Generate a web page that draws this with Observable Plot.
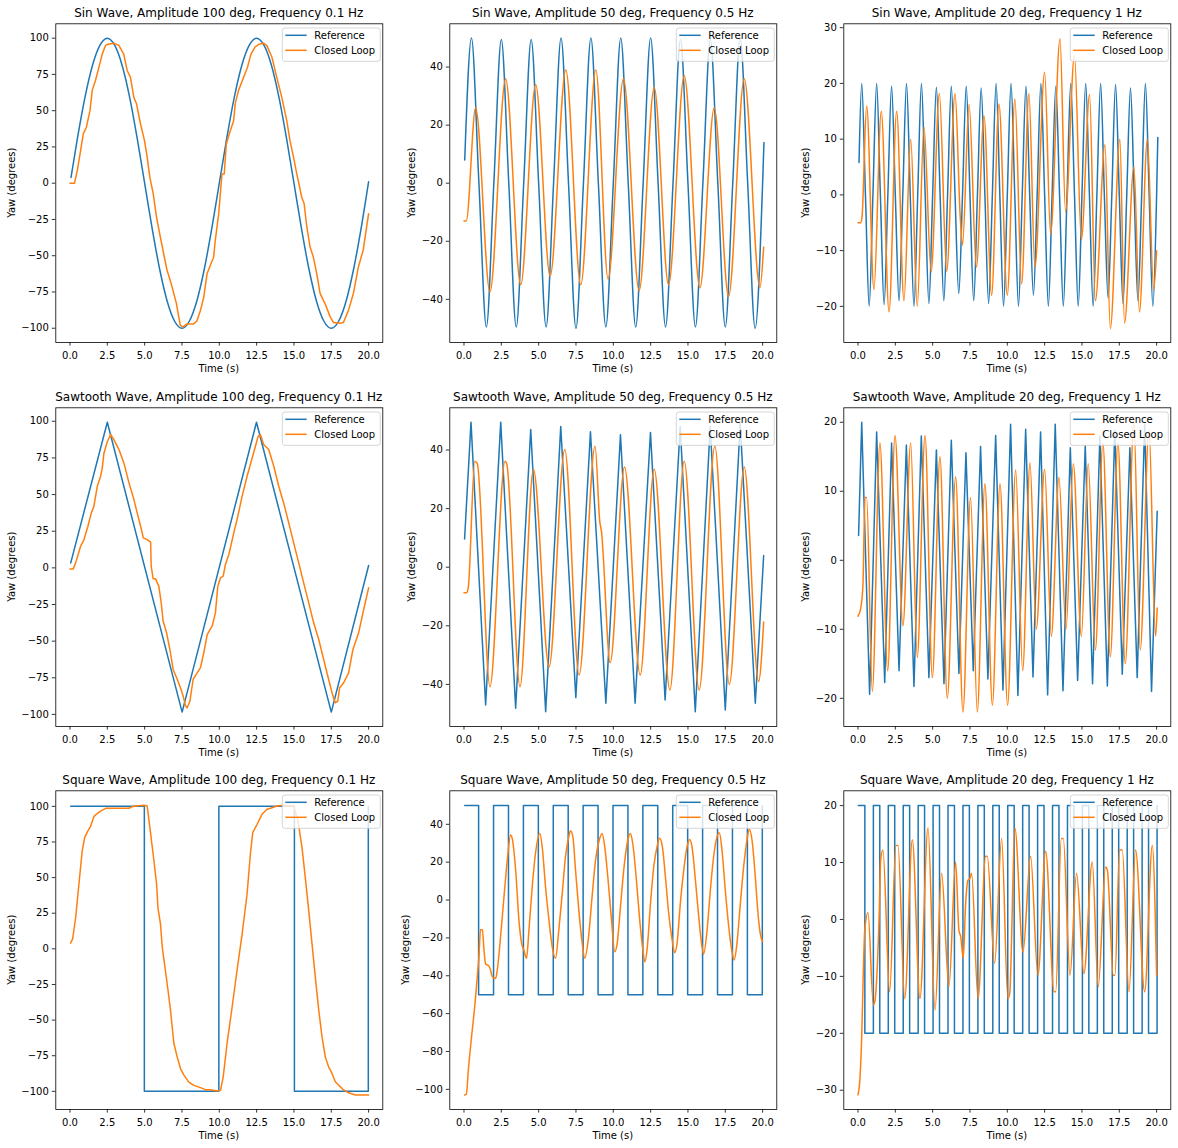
<!DOCTYPE html>
<html><head><meta charset="utf-8">
<script src="https://cdn.jsdelivr.net/npm/d3@7"></script>
<script src="https://cdn.jsdelivr.net/npm/@observablehq/plot@0.6"></script>
<style>
html,body{margin:0;padding:0;background:#fff;}
#fig{position:relative;width:1178px;height:1148px;overflow:hidden;background:#fff;font-family:"DejaVu Sans",sans-serif;}
#fig svg{position:absolute;overflow:visible;}
</style></head><body><div id="fig"></div>
<script>
// ---------- DATA: [time (s), yaw (deg)] ----------
const titles = [
  "Sin Wave, Amplitude 100 deg, Frequency 0.1 Hz",
  "Sin Wave, Amplitude 50 deg, Frequency 0.5 Hz",
  "Sin Wave, Amplitude 20 deg, Frequency 1 Hz",
  "Sawtooth Wave, Amplitude 100 deg, Frequency 0.1 Hz",
  "Sawtooth Wave, Amplitude 50 deg, Frequency 0.5 Hz",
  "Sawtooth Wave, Amplitude 20 deg, Frequency 1 Hz",
  "Square Wave, Amplitude 100 deg, Frequency 0.1 Hz",
  "Square Wave, Amplitude 50 deg, Frequency 0.5 Hz",
  "Square Wave, Amplitude 20 deg, Frequency 1 Hz"
];
const seriesNames = ["Reference", "Closed Loop"];
const xTicks = [0, 2.5, 5, 7.5, 10, 12.5, 15, 17.5, 20];
const yTicks100 = [-100, -75, -50, -25, 0, 25, 50, 75, 100];
const yTicks50 = [-40, -20, 0, 20, 40];
const yTicksSin20 = [-20, -10, 0, 10, 20, 30];
const yTicksSaw20 = [-20, -10, 0, 10, 20];
const yTicksSq50 = [-100, -80, -60, -40, -20, 0, 20, 40];
const yTicksSq20 = [-30, -20, -10, 0, 10, 20];

const sinRef100 = [[0.07,4],[0.5,31],[1,59],[1.5,81],[2,95],[2.5,100],[3,95],[3.5,81],[4,59],[4.5,31],[5,0],[5.5,-31],[6,-59],[6.5,-81],[7,-95],[7.5,-100],[8,-95],[8.5,-81],[9,-59],[9.5,-31],[10,0],[10.5,31],[11,59],[11.5,81],[12,95],[12.5,100],[13,95],[13.5,81],[14,59],[14.5,31],[15,0],[15.5,-31],[16,-59],[16.5,-81],[17,-95],[17.5,-100],[18,-95],[18.5,-81],[19,-59],[19.5,-31],[20,1]];
const sinCL100 = [[0,0],[0.3,0],[0.49,8.7],[0.71,22.5],[0.89,34],[1.1,38.6],[1.34,50],[1.49,64],[1.71,71],[1.94,80],[2.16,89],[2.38,95],[2.6,96],[2.94,96.5],[3.27,95],[3.6,89],[3.83,77.7],[4.05,73],[4.28,59],[4.45,55],[4.72,41],[4.99,29.4],[5.17,18],[5.35,4],[5.57,-7],[5.79,-23],[6.01,-35],[6.28,-49],[6.5,-60],[6.77,-69],[6.95,-76],[7.13,-83],[7.28,-92],[7.39,-98],[7.57,-99],[7.84,-97],[8.28,-97],[8.5,-95],[8.73,-88],[8.95,-79],[9.18,-62.5],[9.44,-55.6],[9.62,-51],[9.73,-39.5],[9.96,-21],[10.18,6.4],[10.33,6.4],[10.47,27],[10.73,36],[10.96,43],[11.07,55],[11.29,64],[11.63,73],[11.89,80],[12.12,89],[12.4,94],[12.7,96],[12.96,96.5],[13.18,95],[13.52,87],[13.85,73],[14.19,59],[14.52,43],[14.74,29],[14.97,18],[15.19,6.4],[15.52,-9.7],[15.68,-14],[15.86,-30],[16.08,-44],[16.3,-51],[16.53,-62.5],[16.75,-76],[17.08,-83],[17.42,-92],[17.64,-96],[18.09,-96.5],[18.31,-96],[18.64,-88],[18.98,-76],[19.31,-58],[19.64,-46],[19.87,-30],[20,-21]];

const sinRef50 = [[0.05,8],[0.5,50],[1,0],[1.5,-49.5],[2,0],[2.5,49.5],[3,0],[3.5,-49.5],[4,0],[4.5,49.5],[5,0],[5.5,-49.5],[6,0],[6.5,50],[7,0],[7.5,-50],[8,0],[8.5,50],[9,0],[9.5,-49.5],[10,0],[10.5,50],[11,0],[11.5,-49.5],[12,0],[12.5,50],[13,0],[13.5,-49.5],[14,0],[14.5,49.5],[15,0],[15.5,-49.5],[16,0],[16.5,49.5],[17,0],[17.5,-49.5],[18,0],[18.5,50],[19,0],[19.5,-50],[20,0],[20.09,14]];
const sinCL50 = [[0,-13],[0.15,-13],[0.78,26],[1.74,-37.5],[2.79,36],[3.8,-35],[4.8,34],[5.77,-32],[6.82,39],[7.82,-35],[8.83,39],[9.65,-33],[10.68,36],[11.73,-37],[12.74,33],[13.7,-35],[14.75,37],[15.8,-36],[16.76,26],[17.72,-39],[18.77,36],[19.82,-36],[20.07,-22]];

const sinRef20 = [[0.07,5.8],[0.25,20],[0.5,0],[0.75,-20],[1,0],[1.25,20],[1.5,0],[1.75,-19.7],[2,0],[2.25,19.5],[2.5,0],[2.75,-19],[3,0],[3.25,20],[3.5,0],[3.75,-20],[4,0],[4.25,20],[4.5,0],[4.75,-19.5],[5,0],[5.25,19.3],[5.5,0],[5.75,-19],[6,0],[6.25,19.5],[6.5,0],[6.75,-17.7],[7,0],[7.25,19.5],[7.5,0],[7.75,-19],[8,0],[8.25,19.2],[8.5,0],[8.75,-19.5],[9,0],[9.25,20],[9.5,0],[9.75,-20],[10,0],[10.25,20],[10.5,0],[10.75,-20],[11,0],[11.25,19.5],[11.5,0],[11.75,-18],[12,0],[12.25,20],[12.5,0],[12.75,-20],[13,0],[13.25,19.5],[13.5,0],[13.75,-20],[14,0],[14.25,20],[14.5,0],[14.75,-20],[15,0],[15.25,20],[15.5,0],[15.75,-20],[16,0],[16.25,20],[16.5,0],[16.75,-18.5],[17,0],[17.25,19.8],[17.5,0],[17.75,-19.5],[18,0],[18.25,19.2],[18.5,0],[18.75,-19],[19,0],[19.25,20],[19.5,0],[19.75,-20],[20,0],[20.08,10.3]];
const sinCL20 = [[0,-5],[0.18,-5],[0.27,-4],[0.58,16],[1.07,-17],[1.56,15],[2.08,-21],[2.59,15],[3.08,-19],[3.53,10],[3.97,-20],[4.42,12.2],[4.9,-13.8],[5.45,18.2],[5.94,-13.7],[6.5,18.2],[6.85,-4],[7.0,-9],[7.44,16.2],[7.93,-13],[8.44,14.2],[8.95,-18],[9.44,16.3],[10.0,-18],[10.51,17.2],[10.96,-16],[11.45,18.2],[11.85,-13],[12.5,22],[12.9,-7],[13.53,28],[13.9,-3],[14.5,25],[14.96,-8],[15.51,18],[15.9,-19],[16.54,9],[16.9,-24],[17.54,10],[17.85,-23],[18.48,5],[18.85,-21],[19.38,10],[19.8,-17],[20.0,-10]];

const sawRef100 = [[0.05,3.4],[2.5,99.3],[7.51,-98.4],[12.49,99.3],[17.5,-98.4],[20,1.6]];
const sawCL100 = [[0,-0.7],[0.22,-0.7],[0.38,3.4],[0.71,14.8],[0.94,19.3],[1.2,28.4],[1.43,37.5],[1.6,42],[1.83,55.7],[2.05,62.5],[2.16,68],[2.27,78],[2.5,86],[2.72,91],[2.94,87.5],[3.28,80.7],[3.61,71.6],[3.95,58],[4.28,46.6],[4.5,37.5],[4.73,28.4],[4.91,20.5],[5.17,19.3],[5.4,17.5],[5.44,1.1],[5.57,-7.5],[5.73,-7.5],[5.95,-12.5],[6.11,-23.9],[6.24,-36.4],[6.47,-44.3],[6.69,-55.7],[6.91,-69.3],[7.18,-76],[7.4,-81.8],[7.58,-87.5],[7.74,-94.3],[7.85,-95.5],[8.03,-91],[8.25,-76],[8.52,-71.6],[8.74,-68],[8.96,-58],[9.19,-45.5],[9.52,-39.8],[9.74,-30.7],[9.9,-12.5],[10.08,-6.8],[10.26,-5.7],[10.41,2.3],[10.64,9.1],[10.97,23.9],[11.24,35.2],[11.53,48.9],[11.86,62.5],[12.2,75],[12.42,83],[12.6,89.8],[12.75,91],[12.98,84],[13.31,80.7],[13.65,69.3],[13.98,55.7],[14.31,44.3],[14.65,30.7],[14.98,17],[15.32,3.4],[15.65,-10.2],[15.99,-23.9],[16.32,-37.5],[16.66,-48.9],[16.99,-62.5],[17.32,-76],[17.61,-87.5],[17.77,-92],[17.93,-91],[18.06,-81.8],[18.33,-78.4],[18.66,-71.6],[18.95,-55.7],[19.33,-44.3],[19.67,-28.4],[20,-13.6]];

const sawRef50 = [[0.04,9.6],[0.47,49.5],[1.45,-47],[2.46,49.5],[3.46,-48.1],[4.47,47],[5.47,-49.3],[6.48,48],[7.49,-44.5],[8.47,46.2],[9.5,-46.4],[10.48,45.2],[11.46,-46.4],[12.49,46],[13.47,-45.3],[14.48,48],[15.49,-49.3],[16.49,48],[17.5,-48.7],[18.5,49],[19.51,-46.4],[20.07,4]];
const sawCL50 = [[0,-8.7],[0.18,-8.7],[0.29,-6.8],[0.72,36.2],[0.89,35.4],[1.74,-40.8],[2.75,36.2],[2.86,35.4],[3.75,-40.8],[4.65,33.4],[5.7,-34],[6.75,40.2],[7.71,-36.8],[8.78,41.3],[9.1,15.3],[9.2,12.5],[9.79,-32.6],[10.75,34.2],[11.8,-36.8],[12.74,33.4],[13.79,-41.9],[14.75,36.2],[15.75,-41.9],[16.8,41.3],[17.77,-40],[18.77,34.2],[19.73,-39],[20.07,-18.7]];

const sawRef20 = [[0.04,3.6],[0.25,20],[0.78,-19.4],[1.25,18.6],[1.79,-17.7],[2.25,17],[2.75,-16],[3.24,16.7],[3.75,-18.3],[4.24,18],[4.75,-17],[5.25,16],[5.76,-17.9],[6.25,17.4],[6.76,-16.4],[7.23,15.6],[7.72,-16],[8.21,16.5],[8.7,-17.2],[9.22,18.1],[9.71,-18.8],[10.22,19.7],[10.71,-19.6],[11.23,19],[11.72,-16.9],[12.23,18.6],[12.7,-19.5],[13.21,19.7],[13.73,-18.9],[14.22,16.3],[14.71,-17.4],[15.22,16.6],[15.71,-17.9],[16.2,18],[16.7,-18.2],[17.2,18.8],[17.7,-16.5],[18.21,16.3],[18.7,-17],[19.2,19.7],[19.66,-19],[20.04,7.1]];
const sawCL20 = [[0,-8.1],[0.18,-7],[0.33,-3.7],[0.47,9.1],[0.58,9.1],[0.96,-19],[1.47,17],[1.99,-16],[2.48,18.1],[3.01,-9.5],[3.53,17],[3.97,-14.1],[4.49,18.1],[4.98,-17],[5.49,15],[5.98,-20],[6.54,12.1],[7.03,-22],[7.54,9.1],[7.99,-22],[8.5,11.1],[9.0,-21],[9.51,11.1],[10.02,-21],[10.56,13.1],[11.03,-16],[11.52,14.1],[11.94,-10],[12.5,13.2],[12.95,-11],[13.46,12],[13.93,-10],[14.42,14],[14.96,-11],[15.42,14],[15.9,-13],[16.4,17],[16.9,-14],[17.41,17],[17.9,-15],[18.48,20],[18.9,-13],[19.49,19],[19.93,-11],[20.04,-6.9]];

const sqRef100 = [[0.05,100],[4.98,-100],[9.97,100],[15.03,-100],[19.98,100]];
const sqCL100 = [[0.04,4],[0.18,7],[0.38,22],[0.6,45.5],[0.82,68.8],[0.98,78],[1.2,82.8],[1.38,86],[1.61,93],[1.83,95],[2.05,96.7],[2.39,98.6],[2.72,98.6],[3.95,98.6],[4.1,99.5],[4.39,100.2],[4.95,100.7],[5.17,100.2],[5.35,85],[5.57,66.4],[5.8,45.5],[5.89,29],[6.06,17.5],[6.18,1.2],[6.33,-10.5],[6.51,-24.5],[6.73,-43],[6.96,-66.4],[7.18,-75.8],[7.4,-84],[7.63,-88.6],[7.96,-93.5],[8.29,-95.8],[8.74,-97.4],[9.07,-98.8],[9.41,-98.8],[9.85,-99.8],[10.08,-99.3],[10.26,-90],[10.52,-66.4],[10.86,-40.8],[11.19,-15],[11.53,10.5],[11.86,38.5],[12.08,66.4],[12.24,81.6],[12.53,87.4],[12.86,94.4],[13.2,97.9],[13.53,99],[13.87,100.2],[14.31,100.7],[14.98,100.2],[15.27,89.7],[15.54,71],[15.76,50],[15.99,26.8],[16.21,3.5],[16.43,-19.8],[16.66,-43],[16.88,-61.8],[17.1,-75.8],[17.32,-82.8],[17.55,-87.4],[17.77,-93.2],[17.99,-95.6],[18.33,-99],[18.66,-101],[19.11,-102.6],[20,-102.6]];

const sqRef50 = [[0.05,50],[0.98,-50],[1.98,50],[2.98,-50],[3.98,50],[4.98,-50],[5.98,50],[6.98,-50],[7.98,50],[8.98,-50],[9.98,50],[10.98,-50],[11.98,50],[12.98,-50],[13.98,50],[14.98,-50],[15.98,50],[16.98,-50],[17.98,50],[18.98,-50],[19.98,50]];
const sqCL50 = [[0.04,-103],[0.16,-102.5],[0.29,-90],[0.51,-72],[0.74,-54.6],[0.89,-40.5],[1.0,-30],[1.11,-15.5],[1.23,-15.8],[1.34,-26.4],[1.45,-33.8],[1.67,-34.9],[1.78,-37],[1.9,-40.5],[2.12,-41.4],[2.23,-37],[2.45,-19.4],[2.68,1.8],[2.9,21],[3.12,34.4],[3.23,32.6],[3.46,15.9],[3.68,-10.6],[3.86,-22.9],[4.01,-26.4],[4.19,-30.8],[4.35,-15.9],[4.57,7],[4.79,24.7],[5.08,35.2],[5.24,28],[5.46,7],[5.69,-10.6],[5.91,-24.7],[6.13,-30.8],[6.35,-15.9],[6.58,3.5],[6.8,23],[7.02,33.5],[7.13,36.6],[7.29,33.5],[7.47,15.9],[7.69,-5.3],[7.92,-22.9],[8.09,-30.8],[8.32,-21],[8.58,1.8],[8.81,21],[9.03,30.8],[9.25,35.2],[9.43,28],[9.65,10.6],[9.88,-10.6],[10.1,-27.3],[10.26,-22.9],[10.48,-3.5],[10.7,15.9],[10.97,31.7],[11.15,35.2],[11.3,30],[11.53,12.3],[11.75,-8.8],[11.98,-26.4],[12.11,-32.6],[12.26,-26.4],[12.49,-1.8],[12.71,17.6],[12.93,28.2],[13.09,32.6],[13.27,29],[13.49,12.3],[13.71,-7],[13.94,-21],[14.11,-27.8],[14.27,-22.9],[14.49,-1.8],[14.72,15.9],[14.94,28.2],[15.12,32],[15.27,28.2],[15.5,10.6],[15.72,-8.8],[15.94,-24.7],[16.05,-28.5],[16.28,-15.9],[16.5,5.3],[16.72,23],[16.95,33.5],[17.1,35.6],[17.28,26.4],[17.5,5.3],[17.73,-14],[17.95,-27.3],[18.1,-31.7],[18.28,-22.9],[18.51,-1.8],[18.73,17.6],[18.95,31.7],[19.11,37.4],[19.29,31.7],[19.51,12.3],[19.69,-7],[19.84,-17.6],[20,-22]];

const sqRef20 = [[0.02,20],[0.46,-20],[1.03,20],[1.46,-20],[2.03,20],[2.46,-20],[3.03,20],[3.46,-20],[4.03,20],[4.46,-20],[5.03,20],[5.46,-20],[6.03,20],[6.46,-20],[7.03,20],[7.46,-20],[8.03,20],[8.46,-20],[9.03,20],[9.46,-20],[10.03,20],[10.46,-20],[11.03,20],[11.46,-20],[12.03,20],[12.46,-20],[13.03,20],[13.46,-20],[14.03,20],[14.46,-20],[15.03,20],[15.46,-20],[16.03,20],[16.46,-20],[17.03,20],[17.46,-20],[18.03,20],[18.46,-20],[19.03,20],[19.46,-20],[20.03,20]];
const sqCL20 = [[0,-30.8],[0.13,-28],[0.25,-20.6],[0.36,-8.9],[0.45,-2],[0.67,1.2],[1.03,-15],[1.14,-14.2],[1.41,0],[1.52,10.4],[1.67,12.2],[2.12,-12.7],[2.54,13],[2.68,13],[3.13,-13.9],[3.64,14],[4.15,-13.9],[4.69,16.1],[5.16,-15.9],[5.6,8.1],[6.09,-11.8],[6.54,10.1],[6.76,-1.9],[6.88,-3],[7.05,-6.8],[7.21,2.8],[7.37,6.9],[7.5,7.2],[7.61,8.1],[8.04,-13.9],[8.55,11.1],[8.66,11.1],[9.15,-7.7],[9.62,14.2],[10.04,-13.9],[10.16,-13],[10.51,16],[11.05,-5.7],[11.56,11.1],[12.05,-9.8],[12.57,12],[13.13,-12.7],[13.24,-12.7],[13.62,14.2],[13.75,14.2],[14.2,-9.8],[14.64,8.1],[15.13,-9.5],[15.69,10.1],[16.09,-11.8],[16.58,9.2],[16.7,8.7],[17.1,-9.8],[17.21,-9.8],[17.52,12.2],[17.7,12.2],[18.15,-12.7],[18.59,12.2],[19.2,-12.7],[19.71,13],[20.0,-9.8]];

// ---------- PANEL SETUP ----------
const panels = [
  {ref: sinRef100, cl: sinCL100, refCurve: "monotone-x", clCurve: "linear", yDomain: [-109.9, 109.9], yTicks: yTicks100},
  {ref: sinRef50, cl: sinCL50, refCurve: "monotone-x", clCurve: "monotone-x", yDomain: [-54.9, 54.9], yTicks: yTicks50},
  {ref: sinRef20, cl: sinCL20, refCurve: "monotone-x", clCurve: "monotone-x", yDomain: [-26.5, 30.7], yTicks: yTicksSin20},
  {ref: sawRef100, cl: sawCL100, refCurve: "linear", clCurve: "linear", yDomain: [-108.3, 109.2], yTicks: yTicks100},
  {ref: sawRef50, cl: sawCL50, refCurve: "linear", clCurve: "monotone-x", yDomain: [-54.4, 54.4], yTicks: yTicks50},
  {ref: sawRef20, cl: sawCL20, refCurve: "linear", clCurve: "monotone-x", yDomain: [-24.1, 22.1], yTicks: yTicksSaw20},
  {ref: sqRef100, cl: sqCL100, refCurve: "step-after", clCurve: "linear", yDomain: [-112.8, 110.9], yTicks: yTicks100},
  {ref: sqRef50, cl: sqCL50, refCurve: "step-after", clCurve: "monotone-x", yDomain: [-110.7, 57.7], yTicks: yTicksSq50},
  {ref: sqRef20, cl: sqCL20, refCurve: "step-after", clCurve: "monotone-x", yDomain: [-33.4, 22.6], yTicks: yTicksSq20}
];

const BLUE = "#1f77b4", ORANGE = "#ff7f0e";
const W = 394, H = 384, ML = 55.3, MT = 23.3, PW = 327, PH = 318.8;
const colX = [0, 394, 788], rowY = [0, 383.6, 767.4];
const minus = v => (v < 0 ? "\u2212" : "");
const fmtX = v => minus(v) + Math.abs(v).toFixed(1);
const fmtY = v => minus(v) + Math.abs(v);
const fig = document.getElementById("fig");

panels.forEach((p, i) => {
  const col = i % 3, row = Math.floor(i / 3);
  const svg = Plot.plot({
    width: W, height: H,
    marginLeft: ML, marginTop: MT, marginRight: W - ML - PW, marginBottom: H - MT - PH,
    style: {fontFamily: "DejaVu Sans, sans-serif", fontSize: "10px", color: "black", background: "transparent", overflow: "visible"},
    x: {domain: [-0.95, 20.95]},
    y: {domain: p.yDomain},
    marks: [
      Plot.line(p.ref, {x: d => d[0], y: d => d[1], stroke: BLUE, strokeWidth: 1.5, curve: p.refCurve}),
      Plot.line(p.cl, {x: d => d[0], y: d => d[1], stroke: ORANGE, strokeWidth: 1.5, curve: p.clCurve}),
      Plot.frame({stroke: "black", strokeWidth: 0.8}),
      Plot.axisX({ticks: xTicks, tickFormat: fmtX, tickSize: 3.5, tickPadding: 5.5, strokeWidth: 0.8, label: null, fontSize: 10}),
      Plot.axisY({ticks: p.yTicks, tickFormat: fmtY, tickSize: 3.5, tickPadding: 3.5, strokeWidth: 0.8, label: null, fontSize: 10})
    ]
  });
  svg.style.left = colX[col] + "px";
  svg.style.top = rowY[row] + "px";
  fig.appendChild(svg);

  const s = d3.select(svg);
  const cx = ML + PW / 2;
  // title
  s.append("text").attr("x", cx).attr("y", MT - 6).attr("text-anchor", "middle")
    .attr("font-size", 12).attr("fill", "black").text(titles[i]);
  // x label
  s.append("text").attr("x", cx).attr("y", MT + PH + 29.5).attr("text-anchor", "middle")
    .attr("font-size", 10).attr("fill", "black").text("Time (s)");
  // y label: placed left of the tick labels
  const sr = svg.getBoundingClientRect();
  let minLeft = ML - 7 - 21;
  const tl = svg.querySelector('[aria-label="y-axis tick label"]');
  if (tl) minLeft = tl.getBoundingClientRect().left - sr.left;
  const yl = minLeft - 4 - 6;
  s.append("text").attr("transform", `translate(${yl},${MT + PH / 2}) rotate(-90)`)
    .attr("text-anchor", "middle").attr("dominant-baseline", "central")
    .attr("font-size", 10).attr("fill", "black").text("Yaw (degrees)");
  // legend
  const lw = 98, lh = 33.3;
  const g = s.append("g").attr("transform", `translate(${ML + PW - 2 - lw},${MT + 4.7})`);
  g.append("rect").attr("width", lw).attr("height", lh).attr("rx", 2.5)
    .attr("fill", "white").attr("fill-opacity", 0.8)
    .attr("stroke", "#cccccc").attr("stroke-opacity", 0.8).attr("stroke-width", 1);
  [[BLUE, 7.3], [ORANGE, 22.3]].forEach(([c, y], k) => {
    g.append("line").attr("x1", 3).attr("x2", 24.4).attr("y1", y).attr("y2", y)
      .attr("stroke", c).attr("stroke-width", 1.5);
    g.append("text").attr("x", 32).attr("y", y).attr("text-anchor", "start")
      .attr("dominant-baseline", "central")
      .attr("font-size", 10).attr("fill", "black").text(seriesNames[k]);
  });
});
</script>
</body></html>
